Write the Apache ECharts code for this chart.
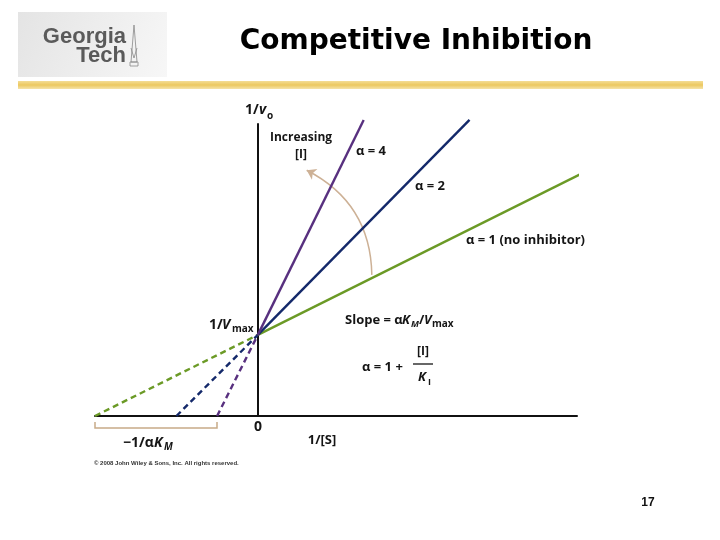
<!DOCTYPE html>
<html><head><meta charset="utf-8">
<script src="https://cdn.jsdelivr.net/npm/echarts@6/dist/echarts.min.js"></script>
<style>html,body{margin:0;padding:0;background:#fff}#c{width:720px;height:540px}</style>
</head><body><div id="c"></div>
<script>
// Lineweaver-Burk plot, units: 1/Vmax = 1, 1/KM = 1
var xRange = [-1, 1.96];
var yRange = [0, 3.6];
var alphaLabels = ['α = 1 (no inhibitor)', 'α = 2', 'α = 4'];
var seriesColors = ['#6b9a26', '#14296a', '#58307f'];
// dashed parts: from x-intercept (-1/αKM) to (0, 1/Vmax)
var dashedGreen = [[-1, 0], [0, 1]];
var dashedBlue = [[-0.5, 0], [0, 1]];
var dashedPurple = [[-0.25, 0], [0, 1]];
// solid parts: from (0, 1/Vmax) upward
var solidGreen = [[0, 1], [2.01, 3.01]];
var solidBlue = [[0, 1], [1.30, 3.65]];
var solidPurple = [[0, 1], [0.65, 3.65]];
// "increasing [I]" arc endpoints
var arcCoords = [[0.70, 1.74], [0.30, 3.03]];

var chart = echarts.init(document.getElementById('c'), null, {renderer: 'canvas'});
var FF = '"Open Sans", "DejaVu Sans", sans-serif';
function T(x, y, text, o) {
  return {type: 'text', x: x, y: y, z: 100, style: Object.assign({
    text: text, fill: '#151515', fontFamily: FF, fontWeight: 'bold', fontSize: 13,
    align: 'left', verticalAlign: 'middle'}, o || {})};
}
function L(pts, color, w) {
  return {type: 'polyline', z: 100, shape: {points: pts}, style: {stroke: color, lineWidth: w || 1.5, fill: null}};
}
function lineSeries(data, color, dashed) {
  return {type: 'line', data: data, symbol: 'none', clip: false, z: 5, animation: false,
    lineStyle: {color: color, width: 2.4, type: dashed ? [6, 4] : 'solid'}};
}
var LOGO = '"Liberation Sans", Arial, sans-serif';
var graphics = [
  // logo box
  {type: 'rect', shape: {x: 18, y: 12, width: 149, height: 65},
   style: {fill: new echarts.graphic.LinearGradient(0, 0, 1, 1, [{offset: 0, color: '#e4e4e4'}, {offset: 1, color: '#f7f7f7'}])}},
  T(126, 37, 'Georgia', {fontFamily: LOGO, fontSize: 22, fill: '#5a5a5a', align: 'right', letterSpacing: -0.4}),
  T(126, 56, 'Tech', {fontFamily: LOGO, fontSize: 22, fill: '#5a5a5a', align: 'right', letterSpacing: -0.4}),
  L([[134, 25], [131, 62], [137, 62], [134, 25]], '#888', 0.8),
  L([[131, 48], [134, 58], [137, 48]], '#888', 0.8),
  {type: 'rect', shape: {x: 130, y: 62, width: 8, height: 4}, style: {fill: null, stroke: '#888', lineWidth: 0.8}},
  // title
  T(416, 42, 'Competitive Inhibition', {fontFamily: '"DejaVu Sans", sans-serif', fontSize: 28, fill: '#000', align: 'center'}),
  // gold bar
  {type: 'rect', shape: {x: 18, y: 81, width: 685, height: 8},
   style: {fill: new echarts.graphic.LinearGradient(0, 0, 0, 1, [{offset: 0, color: '#f4dd95'}, {offset: 0.5, color: '#ecc860'}, {offset: 1, color: '#f6e3a8'}])}},
  // axis labels
  T(245, 110, '1/', {fontSize: 14}),
  T(259, 110, 'v', {fontSize: 14, fontStyle: 'italic'}),
  T(267, 116, 'o', {fontSize: 10}),
  T(209, 325, '1/', {fontSize: 14}),
  T(222, 325, 'V', {fontSize: 14, fontStyle: 'italic'}),
  T(232, 329, 'max', {fontSize: 10}),
  T(258, 427, '0', {fontSize: 14, align: 'center'}),
  T(322, 440, '1/[S]', {fontSize: 13, align: 'center'}),
  T(123, 443, '−1/α', {fontSize: 14}),
  T(154, 443, 'K', {fontSize: 14, fontStyle: 'italic'}),
  T(164, 447, 'M', {fontSize: 10, fontStyle: 'italic'}),
  // bracket
  L([[95, 422], [95, 428], [217, 428], [217, 422]], '#c8aa88', 1.5),
  // copyright
  T(94, 463, '© 2008 John Wiley & Sons, Inc. All rights reserved.', {fontFamily: LOGO, fontSize: 6, fill: '#333'}),
  // annotations
  T(301, 138, 'Increasing', {fontSize: 12, align: 'center'}),
  T(301, 155, '[I]', {fontSize: 12, align: 'center'}),
  T(356, 151, alphaLabels[2], {fontSize: 13}),
  T(415, 186, alphaLabels[1], {fontSize: 13}),
  T(466, 240, alphaLabels[0], {fontSize: 13}),
  T(345, 320, 'Slope = α', {fontSize: 13}),
  T(402, 320, 'K', {fontSize: 13, fontStyle: 'italic'}),
  T(411, 324, 'M', {fontSize: 9, fontStyle: 'italic'}),
  T(419, 320, '/', {fontSize: 13}),
  T(424, 320, 'V', {fontSize: 13, fontStyle: 'italic'}),
  T(432, 324, 'max', {fontSize: 10}),
  T(362, 367, 'α = 1 +', {fontSize: 13}),
  T(423, 352, '[I]', {fontSize: 12, align: 'center'}),
  L([[413, 364], [433, 364]], '#151515', 1.3),
  T(418, 377, 'K', {fontSize: 13, fontStyle: 'italic'}),
  T(428, 382, 'I', {fontSize: 9}),
  // page number
  T(648, 503, '17', {fontFamily: LOGO, fontSize: 12, align: 'center', fill: '#111'})
];

chart.setOption({
  animation: false,
  grid: {left: 95, top: 124, width: 482, height: 292, containLabel: false},
  xAxis: {type: 'value', min: xRange[0], max: xRange[1],
    axisLine: {show: true, onZero: true, lineStyle: {color: '#111', width: 2}},
    axisTick: {show: false}, axisLabel: {show: false}, splitLine: {show: false}},
  yAxis: {type: 'value', min: yRange[0], max: yRange[1],
    axisLine: {show: true, onZero: true, lineStyle: {color: '#111', width: 2}},
    axisTick: {show: false}, axisLabel: {show: false}, splitLine: {show: false}},
  series: [
    lineSeries(dashedGreen, seriesColors[0], true),
    lineSeries(dashedBlue, seriesColors[1], true),
    lineSeries(dashedPurple, seriesColors[2], true),
    lineSeries(solidGreen, seriesColors[0], false),
    lineSeries(solidBlue, seriesColors[1], false),
    lineSeries(solidPurple, seriesColors[2], false),
    {type: 'lines', coordinateSystem: 'cartesian2d', z: 4, animation: false,
     symbol: ['none', 'arrow'], symbolSize: 9,
     lineStyle: {color: '#cdb196', width: 1.5, curveness: -0.3, opacity: 1},
     data: [{coords: arcCoords}]}
  ],
  graphic: graphics
});
</script></body></html>
